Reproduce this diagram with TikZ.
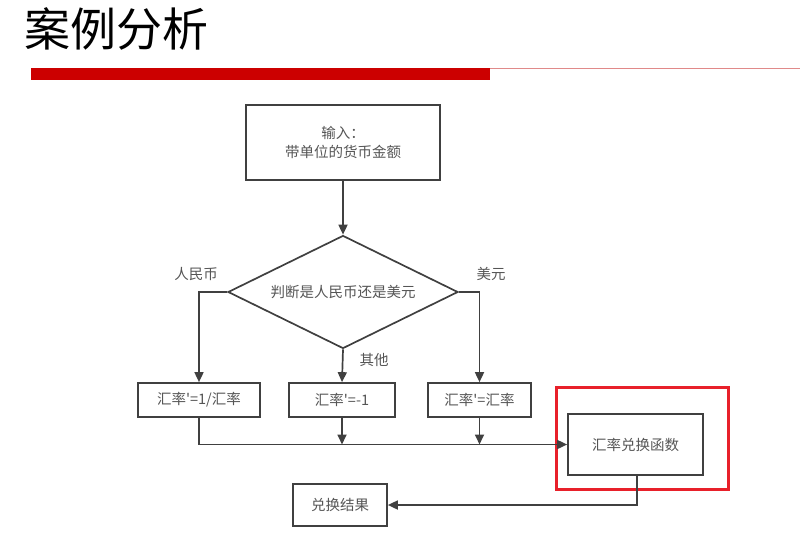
\documentclass[tikz,border=0pt]{standalone}
\usepackage{fontspec}
\usetikzlibrary{arrows.meta,shapes.geometric}
\newfontfamily\cjk{Noto Sans CJK SC}
\definecolor{linec}{HTML}{404040}
\definecolor{txtc}{HTML}{555555}
\definecolor{barred}{HTML}{CC0000}
\definecolor{thinred}{HTML}{E08A8A}
\definecolor{hlred}{HTML}{E8202A}
\tikzset{
  box/.style={draw=linec, line width=1.7pt, rectangle, inner sep=0pt, align=center,
    font=\cjk\fontsize{14.5}{19}\selectfont, text=txtc},
  lbl/.style={font=\cjk\fontsize{14.5}{18}\selectfont, text=txtc, inner sep=0pt},
  conn/.style={draw=linec, line width=1.7pt},
  arr/.style={conn, -{Triangle[length=10pt,width=9pt]}},
}
\begin{document}
\begin{tikzpicture}[x=1pt,y=-1pt]
\useasboundingbox (0,0) rectangle (800,538);
% title
\node[anchor=west, inner sep=0pt, font=\cjk\fontsize{46}{50}\selectfont] (title) at (24,29) {案例分析};
\fill[barred] (31,68) rectangle (490,80);
\draw[thinred, line width=1.3pt] (490,68.7) -- (800,68.7);
% nodes
\node[box, minimum width=194pt, minimum height=75pt] (in) at (343,142.5) {输入：\\带单位的货币金额};
\node[diamond, draw=linec, line width=1.7pt, aspect=2, inner sep=0pt, minimum width=230pt, minimum height=113pt,
  font=\cjk\fontsize{14.5}{18}\selectfont, text=txtc] (dia) at (343,292) {判断是人民币还是美元};
\node[box, minimum width=122pt, minimum height=34pt] (r1) at (199,400) {汇率{\char39}=1/汇率};
\node[box, minimum width=106pt, minimum height=34pt] (r2) at (342,400) {汇率{\char39}=-1};
\node[box, minimum width=103pt, minimum height=34pt] (r3) at (479.5,400) {汇率{\char39}=汇率};
\node[box, minimum width=135pt, minimum height=61pt] (fn) at (635.5,444.5) {汇率兑换函数};
\node[box, minimum width=94pt, minimum height=42pt] (res) at (340,505) {兑换结果};
% highlight
\node[draw=hlred, line width=3pt, rectangle, inner sep=0pt, minimum width=172pt, minimum height=102pt] (hl) at (642,438) {};
% labels
\node[lbl] (l1) at (196,274) {人民币};
\node[lbl] (l2) at (491,274) {美元};
\node[lbl] (l3) at (374,360) {其他};
% connectors
\draw[arr] (in.south) -- (dia.north);
\draw[arr] (dia.west) -| (r1.north);
\draw[arr] (dia.east) -| (r3.north);
\draw[arr] (dia.south) -- (r2.north);
\draw[arr] (r1.south) |- (fn.west);
\draw[arr] (r2.south) -- (r2.south |- fn.west);
\draw[arr] (r3.south) -- (r3.south |- fn.west);
\draw[arr] ([xshift=1.5pt]fn.south) |- (res.east);
\end{tikzpicture}
\end{document}
